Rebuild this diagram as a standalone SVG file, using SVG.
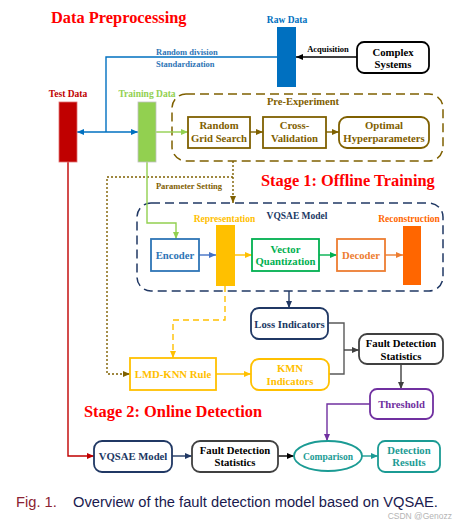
<svg xmlns="http://www.w3.org/2000/svg" width="453" height="527" viewBox="0 0 453 527">
<style>
text{font-family:"Liberation Serif","Times New Roman",serif;font-weight:bold;text-anchor:middle}
.bx{font-size:10.7px}
.lb{font-size:9.5px}
.sm{font-size:8.5px}
.ttl{font-size:16.4px;fill:#ff0000;text-anchor:start}
.ln{fill:none;stroke-width:1.4}
.box{fill:#fff;stroke-width:1.8}
.cap{font-family:"Liberation Sans",Arial,sans-serif;font-weight:normal;font-size:14.7px;text-anchor:start}
</style>
<defs>
<marker id="aK" markerUnits="userSpaceOnUse" markerWidth="7" markerHeight="6" refX="7" refY="3" orient="auto"><path d="M0,0L7,3L0,6z" fill="#000"/></marker>
<marker id="aB" markerUnits="userSpaceOnUse" markerWidth="7" markerHeight="6" refX="7" refY="3" orient="auto-start-reverse"><path d="M0,0L7,3L0,6z" fill="#0070c0"/></marker>
<marker id="aG" markerUnits="userSpaceOnUse" markerWidth="7" markerHeight="6" refX="7" refY="3" orient="auto"><path d="M0,0L7,3L0,6z" fill="#92d050"/></marker>
<marker id="aO" markerUnits="userSpaceOnUse" markerWidth="7" markerHeight="6" refX="7" refY="3" orient="auto"><path d="M0,0L7,3L0,6z" fill="#7f6000"/></marker>
<marker id="aE" markerUnits="userSpaceOnUse" markerWidth="7" markerHeight="6" refX="7" refY="3" orient="auto"><path d="M0,0L7,3L0,6z" fill="#4472c4"/></marker>
<marker id="aY" markerUnits="userSpaceOnUse" markerWidth="7" markerHeight="6" refX="7" refY="3" orient="auto"><path d="M0,0L7,3L0,6z" fill="#ffc000"/></marker>
<marker id="aV" markerUnits="userSpaceOnUse" markerWidth="7" markerHeight="6" refX="7" refY="3" orient="auto"><path d="M0,0L7,3L0,6z" fill="#00b050"/></marker>
<marker id="aD" markerUnits="userSpaceOnUse" markerWidth="7" markerHeight="6" refX="7" refY="3" orient="auto"><path d="M0,0L7,3L0,6z" fill="#ed7d31"/></marker>
<marker id="aN" markerUnits="userSpaceOnUse" markerWidth="7" markerHeight="6" refX="7" refY="3" orient="auto"><path d="M0,0L7,3L0,6z" fill="#203864"/></marker>
<marker id="aS" markerUnits="userSpaceOnUse" markerWidth="7" markerHeight="6" refX="7" refY="3" orient="auto"><path d="M0,0L7,3L0,6z" fill="#404040"/></marker>
<marker id="aP" markerUnits="userSpaceOnUse" markerWidth="7" markerHeight="6" refX="7" refY="3" orient="auto"><path d="M0,0L7,3L0,6z" fill="#7030a0"/></marker>
<marker id="aR" markerUnits="userSpaceOnUse" markerWidth="7" markerHeight="6" refX="7" refY="3" orient="auto"><path d="M0,0L7,3L0,6z" fill="#c00000"/></marker>
<marker id="aT" markerUnits="userSpaceOnUse" markerWidth="7" markerHeight="6" refX="7" refY="3" orient="auto"><path d="M0,0L7,3L0,6z" fill="#1b9b94"/></marker>
</defs>
<rect width="453" height="527" fill="#fff"/>

<!-- titles -->
<text class="ttl" x="51" y="23">Data Preprocessing</text>
<text class="ttl" x="261" y="186">Stage 1: Offline Training</text>
<text class="ttl" x="84" y="417">Stage 2: Online Detection</text>

<!-- group frames -->
<g id="pre-experiment">
<rect x="172" y="94" width="271" height="67" rx="14" fill="none" stroke="#7f6000" stroke-width="1.5" stroke-dasharray="9,5"/>
<text x="303" y="105" fill="#7f6000" style="font-size:10.5px">Pre-Experiment</text>
</g>
<g id="vqsae-frame">
<rect x="137" y="203" width="306" height="88" rx="14" fill="none" stroke="#203864" stroke-width="1.5" stroke-dasharray="9,5"/>
<text class="lb" x="297" y="219" fill="#203864">VQSAE Model</text>
</g>

<!-- connectors -->
<g id="connectors">
<path class="ln" d="M357,57H296" stroke="#000" marker-end="url(#aK)"/>
<path class="ln" d="M277,57H106V132" stroke="#0070c0"/>
<path class="ln" d="M77,132H138" stroke="#0070c0" marker-start="url(#aB)" marker-end="url(#aB)"/>
<path class="ln" d="M156,132H188" stroke="#92d050" marker-end="url(#aG)"/>
<path class="ln" d="M250,132H263" stroke="#7f6000" marker-end="url(#aO)"/>
<path class="ln" d="M326,132H339" stroke="#7f6000" marker-end="url(#aO)"/>
<path class="ln" d="M233,161V203" stroke="#7f6000" stroke-dasharray="2,2" marker-end="url(#aO)"/>
<path class="ln" d="M233,177H107V374H130" stroke="#7f6000" stroke-dasharray="2,2" marker-end="url(#aO)"/>
<path class="ln" d="M147,162V223H176V239" stroke="#92d050" marker-end="url(#aG)"/>
<path class="ln" d="M199,255H216" stroke="#4472c4" marker-end="url(#aE)"/>
<path class="ln" d="M235,255H252" stroke="#ffc000" marker-end="url(#aY)"/>
<path class="ln" d="M319,255H337" stroke="#00b050" marker-end="url(#aV)"/>
<path class="ln" d="M385,255H403" stroke="#ed7d31" marker-end="url(#aD)"/>
<path class="ln" d="M289,291V308" stroke="#203864" marker-end="url(#aN)"/>
<path class="ln" d="M225,286V320H173V358" stroke="#ffc000" stroke-dasharray="6,4" marker-end="url(#aY)"/>
<path class="ln" d="M216,374H251" stroke="#ffc000" marker-end="url(#aY)"/>
<path class="ln" d="M328,323H344V374H329" stroke="#595959"/>
<path class="ln" d="M344,350H359" stroke="#404040" marker-end="url(#aS)"/>
<path class="ln" d="M401,364V389" stroke="#404040" marker-end="url(#aS)"/>
<path class="ln" d="M370,404H327V441" stroke="#7030a0" marker-end="url(#aP)"/>
<path class="ln" d="M68,162V456H94" stroke="#c00000" marker-end="url(#aR)"/>
<path class="ln" d="M172,456H192" stroke="#203864" marker-end="url(#aN)"/>
<path class="ln" d="M278,456H294" stroke="#000" marker-end="url(#aK)"/>
<path class="ln" d="M362,456H378" stroke="#1b9b94" marker-end="url(#aT)"/>
</g>
<text class="sm" x="156" y="54.5" fill="#2e75b6" style="text-anchor:start">Random division</text>
<text class="sm" x="156" y="66.5" fill="#2e75b6" style="text-anchor:start">Standardization</text>
<text class="sm" x="328" y="52" fill="#000">Acquisition</text>
<text class="sm" x="189" y="189" fill="#7f6000">Parameter Setting</text>

<!-- nodes -->
<g id="raw-data">
<rect x="277" y="27" width="19" height="60" fill="#0070c0"/>
<text class="lb" x="287" y="23" fill="#0070c0">Raw Data</text>
</g>
<g id="complex-systems">
<rect class="box" x="357" y="42" width="72" height="31" rx="7" stroke="#000" stroke-width="2"/>
<text class="bx" x="393" y="55.5" fill="#000">Complex</text>
<text class="bx" x="393" y="67.5" fill="#000">Systems</text>
</g>
<g id="test-data">
<rect x="59" y="102" width="18" height="60" fill="#c00000" stroke="#e07070" stroke-width="0.8"/>
<text class="lb" x="68" y="97" fill="#c00000">Test Data</text>
</g>
<g id="training-data">
<rect x="138" y="102" width="18" height="60" fill="#92d050" stroke="#c0c0c0" stroke-width="0.8"/>
<text class="lb" x="147" y="97" fill="#92d050">Training Data</text>
</g>
<g id="random-grid-search">
<rect class="box" x="188" y="117" width="62" height="31" stroke="#7f6000"/>
<text class="bx" x="219" y="129" fill="#7f6000">Random</text>
<text class="bx" x="219" y="142" fill="#7f6000">Grid Search</text>
</g>
<g id="cross-validation">
<rect class="box" x="263" y="117" width="63" height="31" stroke="#7f6000"/>
<text class="bx" x="294.5" y="129" fill="#7f6000">Cross-</text>
<text class="bx" x="294.5" y="142" fill="#7f6000">Validation</text>
</g>
<g id="optimal-hyperparameters">
<rect class="box" x="339" y="117" width="90" height="31" rx="8" stroke="#7f6000"/>
<text class="bx" x="384" y="129" fill="#7f6000">Optimal</text>
<text class="bx" x="384" y="142" fill="#7f6000">Hyperparameters</text>
</g>
<g id="encoder">
<rect class="box" x="151" y="239" width="48" height="32" stroke="#2e75b6"/>
<text class="bx" x="175" y="259" fill="#2e75b6">Encoder</text>
</g>
<g id="representation">
<rect x="216" y="225" width="19" height="61" fill="#ffc000"/>
<text class="lb" x="224.5" y="222" fill="#ffc000">Representation</text>
</g>
<g id="vector-quantization">
<rect class="box" x="252" y="239" width="67" height="32" stroke="#00b050"/>
<text class="bx" x="285.5" y="252.5" fill="#00b050">Vector</text>
<text class="bx" x="285.5" y="265" fill="#00b050">Quantization</text>
</g>
<g id="decoder">
<rect class="box" x="337" y="239" width="48" height="32" stroke="#ed7d31"/>
<text class="bx" x="361" y="259" fill="#ed7d31">Decoder</text>
</g>
<g id="reconstruction">
<rect x="403" y="226" width="18" height="59" fill="#ff6600"/>
<text class="lb" x="409" y="221.5" fill="#ff6600">Reconstruction</text>
</g>
<g id="loss-indicators">
<rect class="box" x="251" y="308" width="77" height="31" rx="8" stroke="#203864"/>
<text class="bx" x="289.5" y="327.5" fill="#203864">Loss Indicators</text>
</g>
<g id="lmd-knn-rule">
<rect class="box" x="130" y="358" width="86" height="32" stroke="#ffc000"/>
<text class="bx" x="173" y="378" fill="#ffc000">LMD-KNN Rule</text>
</g>
<g id="kmn-indicators">
<rect class="box" x="251" y="359" width="78" height="31" rx="8" stroke="#ffc000"/>
<text class="bx" x="290" y="371.5" fill="#ffc000">KMN</text>
<text class="bx" x="290" y="384.5" fill="#ffc000">Indicators</text>
</g>
<g id="fault-detection-statistics-1">
<rect class="box" x="359" y="334" width="84" height="30" rx="8" stroke="#404040"/>
<text class="bx" x="401" y="346.5" fill="#000">Fault Detection</text>
<text class="bx" x="401" y="359.5" fill="#000">Statistics</text>
</g>
<g id="threshold">
<rect class="box" x="370" y="389" width="63" height="30" rx="7" stroke="#7030a0"/>
<text class="bx" x="401.5" y="408" fill="#7030a0">Threshold</text>
</g>
<g id="vqsae-model-online">
<rect class="box" x="94" y="441" width="78" height="31" rx="8" stroke="#203864"/>
<text class="bx" x="133" y="460" fill="#203864">VQSAE Model</text>
</g>
<g id="fault-detection-statistics-2">
<rect class="box" x="192" y="441" width="86" height="31" rx="8" stroke="#404040"/>
<text class="bx" x="235" y="453.5" fill="#000">Fault Detection</text>
<text class="bx" x="235" y="466" fill="#000">Statistics</text>
</g>
<g id="comparison">
<ellipse cx="328" cy="456" rx="34" ry="15" fill="#fff" stroke="#1b9b94" stroke-width="1.8"/>
<text class="lb" x="328" y="459.5" fill="#1b9b94">Comparison</text>
</g>
<g id="detection-results">
<rect class="box" x="378" y="441" width="62" height="31" rx="7" stroke="#1b9b94"/>
<text class="bx" x="409" y="453.5" fill="#1b9b94">Detection</text>
<text class="bx" x="409" y="466" fill="#1b9b94">Results</text>
</g>

<!-- caption -->
<text class="cap" x="16" y="507" fill="#8b2232">Fig. 1.</text>
<text class="cap" x="73" y="507" fill="#1a1a4e">Overview of the fault detection model based on VQSAE.</text>
<text x="452" y="519" style="font-family:'Liberation Sans',Arial,sans-serif;font-weight:normal;font-size:8.5px;text-anchor:end" fill="#b4b4b4">CSDN @Genozz</text>
</svg>
